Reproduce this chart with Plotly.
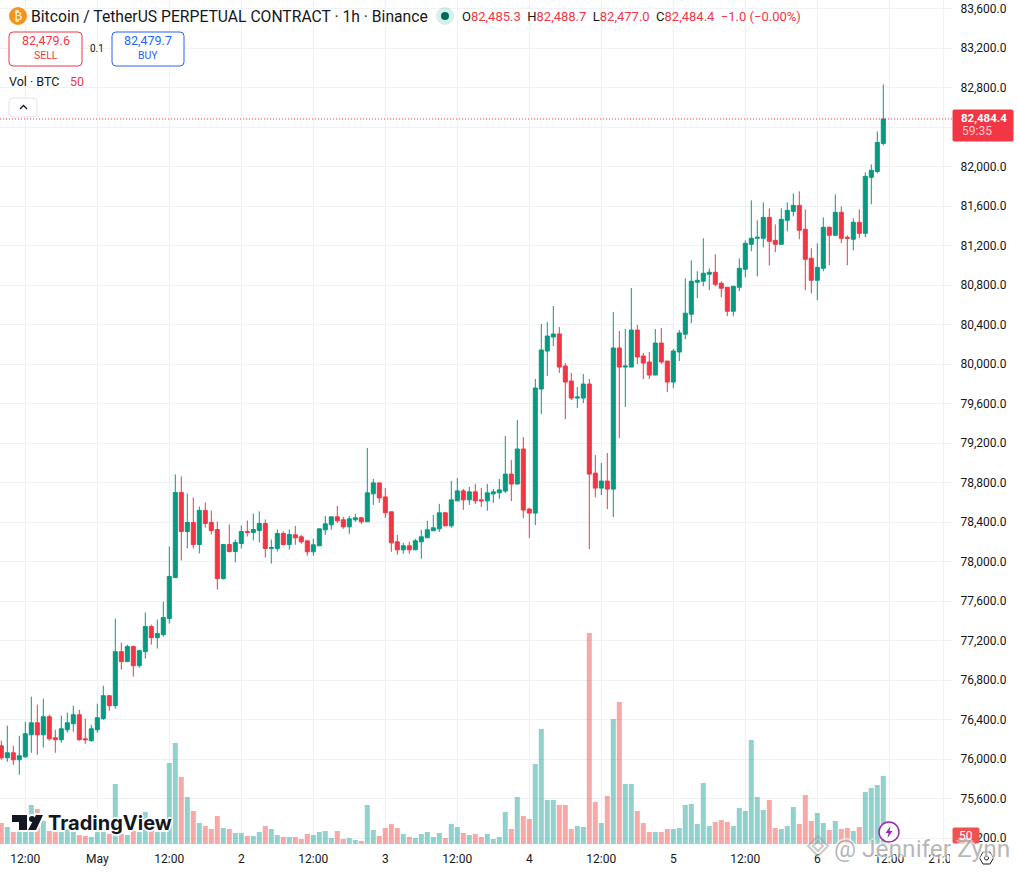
import pandas as pd
import plotly.graph_objects as go

# hourly candles
opens = [76137, 76015, 76066, 75995, 76025, 76248, 76370, 76248, 76431, 76218, 76198, 76299,
         76360, 76451, 76208, 76188, 76299, 76411, 76644, 76543, 77090, 76989, 77141, 76948,
         77090, 77344, 77232, 77262, 77425, 77840, 78702, 78307, 78398, 78175, 78520, 78398,
         78327, 77830, 78175, 78104, 78185, 78307, 78297, 78317, 78388, 78135, 78135, 78287,
         78175, 78273, 78253, 78212, 78101, 78162, 78324, 78374, 78455, 78425, 78354, 78425,
         78445, 78405, 78688, 78799, 78657, 78506, 78202, 78121, 78162, 78121, 78202, 78243,
         78314, 78334, 78496, 78364, 78617, 78718, 78627, 78708, 78627, 78617, 78688, 78698,
         78716, 78888, 78787, 79142, 78534, 78493, 79749, 80134, 80276, 80307, 79982, 79830,
         79658, 79658, 79800, 78898, 78746, 78817, 78736, 80165, 79972, 79972, 80347, 80084,
         80023, 79891, 80215, 80033, 79820, 80124, 80305, 80507, 80831, 80841, 80912, 80932,
         80820, 80780, 80537, 80780, 80962, 81215, 81276, 81276, 81488, 81255, 81215, 81458,
         81549, 81609, 81367, 81073, 80851, 80972, 81387, 81306, 81539, 81286, 81266, 81438,
         81326, 81893, 81953, 82237]
highs = [76188, 76340, 76137, 76238, 76380, 76634, 76553, 76614, 76451, 76299, 76441, 76472,
         76543, 76502, 76411, 76350, 76563, 76745, 76644, 77425, 77181, 77161, 77151, 77110,
         77486, 77364, 77415, 77597, 78155, 78885, 78865, 78692, 78652, 78560, 78601, 78520,
         78408, 78175, 78378, 78226, 78368, 78418, 78489, 78510, 78429, 78226, 78327, 78307,
         78327, 78364, 78273, 78212, 78233, 78334, 78465, 78455, 78566, 78455, 78465, 78485,
         78455, 79153, 78839, 78799, 78748, 78506, 78273, 78192, 78202, 78233, 78324, 78415,
         78475, 78587, 78506, 78819, 78849, 78738, 78758, 78789, 78748, 78789, 78738, 78839,
         79273, 79030, 79435, 79263, 78544, 79851, 80408, 80428, 80590, 80378, 80013, 79912,
         79770, 79901, 79851, 79081, 79000, 79101, 80529, 80337, 80357, 80773, 80398, 80114,
         80124, 80357, 80367, 80033, 80155, 80347, 80871, 81053, 80942, 81276, 80972, 81114,
         80841, 80780, 80790, 81073, 81255, 81660, 81458, 81640, 81579, 81417, 81579, 81640,
         81731, 81751, 81569, 81175, 81225, 81488, 81397, 81721, 81599, 81306, 81478, 81569,
         81943, 82024, 82358, 82834]
lows = [75995, 75975, 75944, 75843, 76015, 76066, 76046, 76117, 76188, 76066, 76167, 76269,
        76279, 76188, 76157, 76178, 76269, 76401, 76492, 76512, 76908, 76989, 76837, 76928,
        77019, 77161, 77121, 77242, 77374, 77840, 78013, 78135, 78135, 78084, 78347, 78277,
        77719, 77820, 78094, 77993, 78135, 78256, 78216, 78195, 78043, 77982, 78104, 78165,
        78124, 78172, 78182, 78061, 78061, 78162, 78273, 78324, 78394, 78334, 78283, 78405,
        78384, 78405, 78576, 78597, 78445, 78101, 78071, 78081, 78081, 78121, 78031, 78243,
        78314, 78303, 78364, 78344, 78617, 78526, 78576, 78587, 78556, 78516, 78597, 78637,
        78696, 78615, 78787, 78442, 78240, 78372, 79496, 79881, 80185, 79912, 79445, 79638,
        79557, 79608, 78128, 78655, 78676, 78534, 78453, 79253, 79567, 79972, 80003, 79851,
        79851, 79891, 80003, 79719, 79760, 80033, 80254, 80416, 80669, 80790, 80750, 80790,
        80679, 80487, 80487, 80740, 80881, 81144, 80891, 81185, 81003, 81134, 81215, 81346,
        81498, 81266, 80750, 80719, 80648, 80942, 81003, 81306, 81225, 81003, 81154, 81276,
        81286, 81620, 81933, 82216]
closes = [76015, 76066, 75995, 76036, 76259, 76370, 76248, 76431, 76208, 76198, 76309, 76370,
          76451, 76198, 76198, 76309, 76421, 76644, 76543, 77090, 76989, 77141, 76948, 77100,
          77344, 77232, 77273, 77435, 77851, 78702, 78307, 78398, 78175, 78520, 78388, 78317,
          77830, 78175, 78104, 78195, 78307, 78297, 78327, 78388, 78135, 78145, 78287, 78175,
          78277, 78243, 78202, 78101, 78172, 78334, 78384, 78455, 78415, 78354, 78435, 78445,
          78405, 78698, 78799, 78647, 78496, 78192, 78121, 78162, 78121, 78212, 78253, 78324,
          78344, 78496, 78364, 78627, 78718, 78627, 78708, 78617, 78617, 78698, 78708, 78728,
          78888, 78787, 79142, 78524, 78493, 79760, 80145, 80286, 80307, 79972, 79820, 79658,
          79668, 79800, 78888, 78746, 78817, 78736, 80165, 79972, 79982, 80347, 80074, 80013,
          79891, 80215, 80023, 79820, 80134, 80317, 80517, 80841, 80851, 80922, 80932, 80810,
          80770, 80537, 80790, 80972, 81225, 81276, 81286, 81488, 81245, 81215, 81468, 81559,
          81609, 81357, 81063, 80851, 80982, 81387, 81306, 81539, 81276, 81276, 81438, 81326,
          81903, 81964, 82247, 82484.4]
volumes = [210, 170, 120, 120, 120, 390, 350, 230, 130, 120, 120, 150, 120, 90, 80, 70, 120, 120, 100,
           600, 100, 90, 130, 120, 320, 140, 120, 120, 810, 1010, 670, 470, 330, 210, 180, 150, 280,
           160, 150, 110, 110, 80, 80, 120, 180, 150, 90, 70, 70, 70, 50, 100, 90, 120, 130, 60, 130,
           50, 60, 40, 30, 390, 140, 80, 160, 200, 160, 100, 70, 60, 100, 120, 70, 110, 60, 200, 170,
           110, 90, 100, 70, 100, 50, 70, 320, 150, 470, 280, 250, 800, 1150, 440, 440, 390, 390, 150,
           180, 170, 2110, 420, 210, 480, 1250, 1420, 600, 600, 330, 210, 120, 120, 120, 150, 150, 160,
           390, 400, 200, 610, 180, 220, 240, 220, 180, 360, 330, 1040, 470, 340, 440, 160, 150, 180,
           370, 200, 490, 230, 310, 210, 140, 230, 150, 160, 130, 170, 520, 560, 590, 680]

last_price = 82484.4
hours = pd.date_range("2026-04-30 08:00", periods=len(opens), freq="h")

tick_times = ["2026-04-30 12:00", "2026-05-01 00:00", "2026-05-01 12:00", "2026-05-02 00:00",
              "2026-05-02 12:00", "2026-05-03 00:00", "2026-05-03 12:00", "2026-05-04 00:00",
              "2026-05-04 12:00", "2026-05-05 00:00", "2026-05-05 12:00", "2026-05-06 00:00",
              "2026-05-06 12:00", "2026-05-06 21:00"]
tick_names = ["12:00", "May", "12:00", "2", "12:00", "3", "12:00", "4", "12:00", "5", "12:00", "6",
              "12:00", "21:00"]

UP = "#089981"
DOWN = "#F23645"
VOL_UP = "#26A69A"
VOL_DOWN = "#EF5350"
INK = "#131722"
GRID = "#f0f1f4"
W, H = 1018, 872
PLOT_W, PLOT_H = 952, 845


# the overlay furniture is placed in window pixels
def fx(x):
    return x / PLOT_W


def fy(y):
    return 1 - y / PLOT_H


def box(x0, y0, x1, y1, line=None, fill="white", r=4, width=1):
    path = (f"M {fx(x0 + r)} {fy(y0)} L {fx(x1 - r)} {fy(y0)} Q {fx(x1)} {fy(y0)} {fx(x1)} {fy(y0 + r)} "
            f"L {fx(x1)} {fy(y1 - r)} Q {fx(x1)} {fy(y1)} {fx(x1 - r)} {fy(y1)} "
            f"L {fx(x0 + r)} {fy(y1)} Q {fx(x0)} {fy(y1)} {fx(x0)} {fy(y1 - r)} "
            f"L {fx(x0)} {fy(y0 + r)} Q {fx(x0)} {fy(y0)} {fx(x0 + r)} {fy(y0)} Z")
    return dict(type="path", xref="paper", yref="paper", path=path, fillcolor=fill, layer="above",
                line=dict(color=line or fill, width=width))


def poly(points, fill=None, line=None, width=1, close=True):
    path = "M " + " L ".join(f"{fx(x)} {fy(y)}" for x, y in points) + (" Z" if close else "")
    return dict(type="path", xref="paper", yref="paper", path=path, layer="above",
                fillcolor=fill or "rgba(0,0,0,0)", line=dict(color=line or "rgba(0,0,0,0)", width=width))


def dot(cx, cy, r, fill="rgba(0,0,0,0)", line=None, width=1):
    return dict(type="circle", xref="paper", yref="paper", layer="above",
                x0=fx(cx - r), x1=fx(cx + r), y0=fy(cy + r), y1=fy(cy - r), fillcolor=fill,
                line=dict(color=line or "rgba(0,0,0,0)", width=width))


def label(x, y, text, size=12, color=INK, anchor="left", family="Roboto", shadow=None):
    font = dict(size=size, color=color, family=family)
    if shadow:
        font["shadow"] = shadow
    return dict(xref="paper", yref="paper", x=fx(x), y=fy(y), text=text, showarrow=False, font=font,
                xanchor=anchor, yanchor="middle", borderpad=0, borderwidth=0)


def red(text):
    return f'<span style="color:{DOWN}">{text}</span>'


fig = go.Figure()

fig.add_trace(go.Candlestick(
    x=hours, open=opens, high=highs, low=lows, close=closes,
    increasing=dict(line=dict(color=UP, width=1), fillcolor=UP),
    decreasing=dict(line=dict(color=DOWN, width=1), fillcolor=DOWN),
    whiskerwidth=0,
    yaxis="y",
))

# volume sits on its own hidden scale along the bottom
fig.add_trace(go.Bar(
    x=hours, y=volumes, width=3000000, yaxis="y2",
    marker=dict(color=[VOL_UP if c >= o else VOL_DOWN for o, c in zip(opens, closes)], opacity=0.5, line_width=0),
))

halo = "2px 0 1px #fff, -2px 0 1px #fff, 0 2px 1px #fff, 0 -2px 1px #fff"
tv_t = [(12, 815), (27, 815), (27, 830), (19, 830), (19, 822), (12, 822)]
tv_slash = [(36, 815), (43, 815), (36, 830), (28, 830)]
bolt = [(890.5, 826), (885.5, 833), (888.5, 833), (887.5, 838), (892.5, 831), (889.5, 831)]
hexagon = [(983, 852), (990, 852), (993.5, 858), (990, 864), (983, 864), (979.5, 858)]
diamonds = [(818, 836), (828, 846), (818, 856), (808, 846)]

shapes = [
    dict(type="line", xref="paper", yref="y", x0=0, x1=1, y0=last_price, y1=last_price, layer="above",
         line=dict(color=DOWN, width=1, dash="1px,2px")),
    # price scale tags and the clipped end of the time scale
    dict(type="rect", xref="paper", yref="paper", x0=fx(950), x1=fx(W), y0=fy(H), y1=fy(846), layer="above",
         fillcolor="white", line_width=0),
    box(953, 110, 1013, 141, fill=DOWN, r=1),
    box(953, 828, 979, 843, fill="#EF5350", r=1),
    # header
    dot(18, 16, 9, fill="#F7931A"),
    dot(445, 16, 9, fill="rgba(8,153,129,0.16)"),
    dot(445, 16, 4, fill="#00695C"),
    box(9, 32, 82, 66, line=DOWN),
    box(112, 32, 184, 66, line="#2962FF"),
    box(9, 98, 37, 117, line="#e0e3eb"),
    poly([(20, 109), (23.5, 105.5), (27, 109)], line=INK, width=1.3, close=False),
    # TradingView logo, with the white edge it has over the bars
    poly(tv_t, fill="white", line="white", width=4),
    poly(tv_slash, fill="white", line="white", width=4),
    dot(32, 819, 4, fill="#131722", line="white", width=2),
    poly(tv_t, fill="#131722"),
    poly(tv_slash, fill="#131722"),
    # lightning badge
    dot(889, 832, 10, fill="white", line="#9C27B0", width=1.5),
    poly(bolt, fill="#9C27B0"),
    # settings hexagon
    poly(hexagon, line=INK),
    dot(986.5, 858, 2, line=INK),
    # watermark mark
    poly(diamonds, line="rgba(160,160,160,0.55)", width=2),
    poly([(813, 846), (818, 841), (823, 846), (818, 851)], line="rgba(160,160,160,0.55)", width=2),
]

gap = "&nbsp;&nbsp;"
annotations = [
    label(18, 16, "₿", size=12, color="white", anchor="center", family="DejaVu Sans"),
    label(31, 16, "Bitcoin / TetherUS PERPETUAL CONTRACT · 1h · Binance", size=15.7),
    label(462, 16, "O" + red("82,485.3") + gap + "H" + red("82,488.7") + gap + "L" + red("82,477.0") + gap + "C"
          + red("82,484.4") + gap + red("−1.0 (−0.00%)"), size=13),
    label(45.5, 41, "82,479.6", size=12.5, color=DOWN, anchor="center"),
    label(45.5, 56, "SELL", size=10.5, color=DOWN, anchor="center"),
    label(97, 48, "0.1", size=10, anchor="center"),
    label(148, 41, "82,479.7", size=12.5, color="#2962FF", anchor="center"),
    label(148, 56, "BUY", size=10.5, color="#2962FF", anchor="center"),
    label(9, 82, "Vol · BTC", size=12.5),
    label(70, 82, "50", size=12.5, color=DOWN),
    label(983.5, 118, "<b>82,484.4</b>", size=11.5, color="white", anchor="center"),
    label(977, 131, "59:35", size=12, color="rgba(255,255,255,0.75)", anchor="center"),
    label(966, 836, "50", size=12, color="white", anchor="center"),
    label(48, 823, "<b>TradingView</b>", size=20, family="Inter", shadow=halo),
    label(834, 848, "@ Jennifer Zynn", size=24.5, color="rgba(135,135,135,0.6)", shadow=halo),
]

fig.update_layout(
    width=W, height=H,
    margin=dict(l=0, r=W - PLOT_W, t=0, b=H - PLOT_H, pad=0),
    paper_bgcolor="white", plot_bgcolor="white",
    showlegend=False,
    boxgap=0.33, boxgroupgap=0,
    font=dict(family="Roboto", size=12, color=INK),
    xaxis=dict(
        type="date",
        range=["2026-04-30 07:47", "2026-05-06 22:27"],
        rangeslider=dict(visible=False),
        tickmode="array", tickvals=tick_times, ticktext=tick_names, tickangle=0,
        showgrid=True, gridcolor=GRID, gridwidth=1, zeroline=False, showline=False,
        ticks="outside", ticklen=3, tickcolor="white",
    ),
    yaxis=dict(
        side="right",
        range=[75132, 83689],
        tick0=75200, dtick=400, tickformat=",.1f",
        showgrid=True, gridcolor=GRID, gridwidth=1, zeroline=False, showline=False,
        ticks="outside", ticklen=5, tickcolor="white",
    ),
    yaxis2=dict(overlaying="y", side="left", range=[-10, 8440], visible=False, showgrid=False),
    shapes=shapes,
    annotations=annotations,
)

# the default body margin would push the 1018x872 figure out of the window
fig.write_html("out.html", config={"displayModeBar": False}, post_script="document.body.style.margin = '0';")
